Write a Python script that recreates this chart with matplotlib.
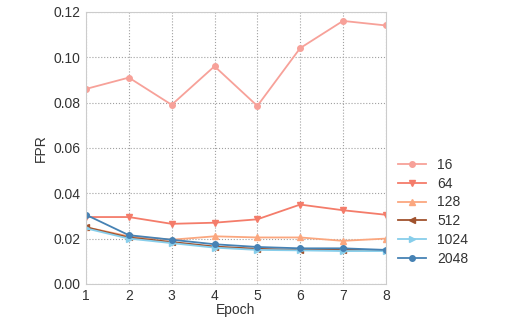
import matplotlib
matplotlib.use("Agg")
import matplotlib.pyplot as plt

plt.rcParams["font.family"] = ["Liberation Sans", "DejaVu Sans"]

epochs = [1, 2, 3, 4, 5, 6, 7, 8]
labels = ["16", "64", "128", "512", "1024", "2048"]
fpr_16 = [0.086, 0.091, 0.079, 0.096, 0.0785, 0.104, 0.116, 0.114]
fpr_64 = [0.0295, 0.0295, 0.0265, 0.027, 0.0285, 0.035, 0.0325, 0.0305]
fpr_128 = [0.025, 0.021, 0.0195, 0.021, 0.0205, 0.0205, 0.019, 0.020]
fpr_512 = [0.025, 0.0205, 0.0185, 0.0165, 0.0155, 0.015, 0.015, 0.015]
fpr_1024 = [0.0245, 0.020, 0.018, 0.016, 0.015, 0.0148, 0.0145, 0.0145]
fpr_2048 = [0.0305, 0.0215, 0.0195, 0.0175, 0.0163, 0.0157, 0.0157, 0.015]

series = [fpr_16, fpr_64, fpr_128, fpr_512, fpr_1024, fpr_2048]
colors = ["#f7a199", "#f47c6a", "#fba77f", "#a0522d", "#87ceeb", "#4682b4"]
markers = ["o", "v", "^", "<", ">", "o"]

fig = plt.figure(figsize=(5.09, 3.29), dpi=100)
ax = fig.add_axes([0.169, 0.137, 0.589, 0.827])

for vals, lab, c, m in zip(series, labels, colors, markers):
    ax.plot(epochs, vals, color=c, marker=m, markersize=4, linewidth=1.3, label=lab)

ax.set_xlim(1, 8)
ax.set_ylim(0, 0.12)
ax.set_yticks([0.0, 0.02, 0.04, 0.06, 0.08, 0.10, 0.12])
ax.set_yticklabels(["0.00", "0.02", "0.04", "0.06", "0.08", "0.10", "0.12"])
ax.set_xticks(epochs)
ax.grid(True, linestyle=":", color="#a0a0a0", linewidth=0.8)
for s in ax.spines.values():
    s.set_color("#cccccc")
ax.tick_params(length=0, labelsize=10, colors="#333333", pad=4)
ax.set_xlabel("Epoch", fontsize=10, color="#333333", labelpad=0)
ax.set_ylabel("FPR", fontsize=10, color="#333333", labelpad=4)

leg = ax.legend(loc="center left", bbox_to_anchor=(1.0, 0.265), frameon=False,
                fontsize=10, handlelength=2.0, labelspacing=0.35, handletextpad=0.8)
for t in leg.get_texts():
    t.set_color("#333333")

fig.savefig("out.png", dpi=100)
